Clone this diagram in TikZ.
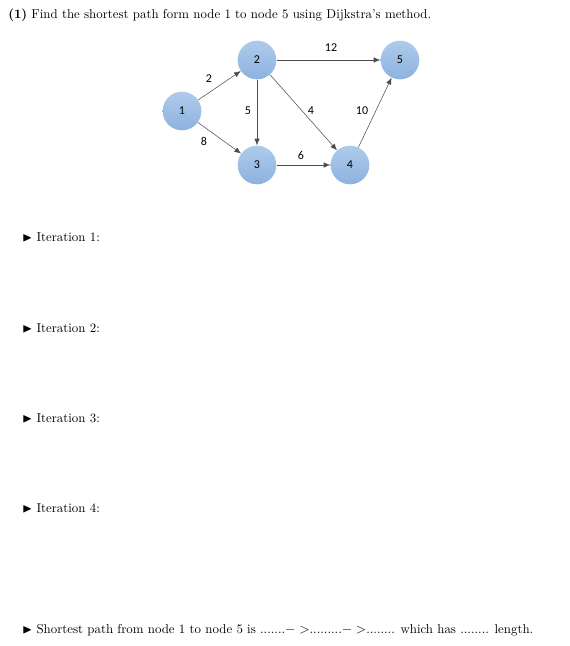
\documentclass[tikz,border=0pt]{standalone}
\usepackage{amssymb}
\usepackage{fontspec}
\newfontfamily\graphfont{Carlito}
\usetikzlibrary{arrows.meta}

\tikzset{
  vertex/.style={circle,minimum size=29pt,inner sep=0pt,draw=none,
    top color=vertTop,bottom color=vertBot,font=\graphfont\small},
  edge/.style={draw=black!70,line width=0.4pt,-{Latex[length=5pt,width=4pt]}},
  weight/.style={font=\graphfont\small,inner sep=1pt},
  item/.style={anchor=west,inner sep=0pt,font=\fontsize{9.65}{11.6}\selectfont}
}
\definecolor{vertTop}{HTML}{AECBEB}
\definecolor{vertBot}{HTML}{8DB2DF}
\newcommand\tri{$\blacktriangleright$}

\begin{document}
\begin{tikzpicture}[x=0.75pt,y=-0.75pt]
    \useasboundingbox (0,0) rectangle (569,646);

    % question
    \node[item] (title) at (8,15) {\textbf{(1)} Find the shortest path form node 1 to node 5 using Dijkstra's method.};

    % vertices
    \foreach \n/\x/\y in {1/182/111,2/257/60,3/257/165,4/350/165,5/400/60} {
      \node[vertex] (v\n) at (\x,\y) {\n};
    }

    % edges
    \draw[edge] (v1) -- (v2);
    \draw[edge] (v1) -- (v3);
    \draw[edge] (v2) -- (v3);
    \draw[edge] (v2) -- (v4);
    \draw[edge] (v2) -- (v5);
    \draw[edge] (v3) -- (v4);
    \draw[edge] (v4) -- (v5);

    % edge weights
    \foreach \x/\y/\w in {209/79/2,204/141/8,248/111/5,311/111/4,331/48/12,362/111/10,301/155/6} {
      \node[weight] (w\w) at (\x,\y) {\w};
    }

    % iterations
    \foreach \k/\y in {1/237,2/328,3/418,4/508} {
      \node[item] (it\k) at (22,\y) {\tri\ Iteration \k:};
    }

    % answer line
    \node[item] (answer) at (22,630) {\tri\ Shortest path from node 1 to node 5 is .......$->$.........$->$........ which has ........ length.};
  \end{tikzpicture}
\end{document}
